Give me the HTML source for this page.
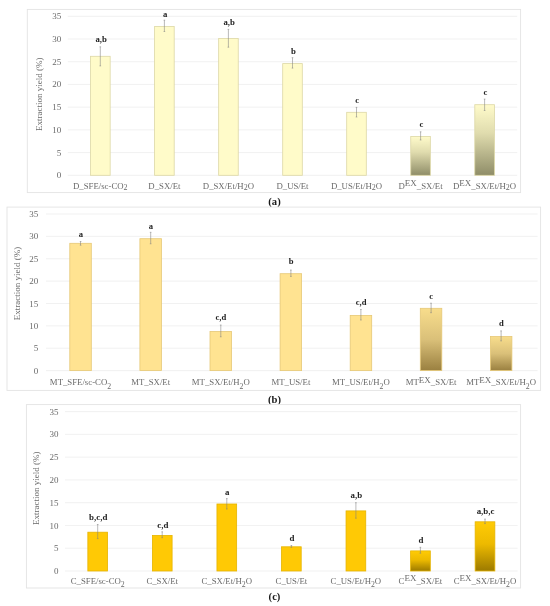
<!DOCTYPE html>
<html><head><meta charset="utf-8"><title>Extraction yield</title>
<style>
html,body{margin:0;padding:0;background:#fff;}
svg{display:block;}
.t{font-family:"Liberation Serif", "DejaVu Serif", serif;font-size:9px;fill:#6a6a6a;}
.s{font-family:"Liberation Serif", "DejaVu Serif", serif;font-size:8.3px;font-weight:bold;fill:#222;text-anchor:middle;}
.c{font-family:"Liberation Serif", "DejaVu Serif", serif;font-size:10.6px;font-weight:bold;fill:#1a1a1a;text-anchor:middle;}
</style></head><body>
<svg width="550" height="606" viewBox="0 0 550 606">
<defs>
<linearGradient id="ga" x1="0" y1="0" x2="0" y2="1"><stop offset="0" stop-color="#FFFBCB"/><stop offset="0.4" stop-color="#E0DCAE"/><stop offset="1" stop-color="#8F8D68"/></linearGradient>
<linearGradient id="gb" x1="0" y1="0" x2="0" y2="1"><stop offset="0" stop-color="#F8DD8C"/><stop offset="0.5" stop-color="#DAC079"/><stop offset="1" stop-color="#9A8040"/></linearGradient>
<linearGradient id="gc" x1="0" y1="0" x2="0" y2="1"><stop offset="0" stop-color="#FFCB05"/><stop offset="0.45" stop-color="#EDBA00"/><stop offset="1" stop-color="#9C7A00"/></linearGradient>
</defs>
<rect width="550" height="606" fill="#fff"/>

<g>
<rect x="27.3" y="9.4" width="493.3" height="183.2" fill="#fff" stroke="#e3e3e3" stroke-width="0.9"/>
<line x1="67.8" x2="517.2" y1="175.30" y2="175.30" stroke="#e9e9e9" stroke-width="0.65"/>
<text class="t" x="61.2" y="178.3" text-anchor="end">0</text>
<line x1="67.8" x2="517.2" y1="152.59" y2="152.59" stroke="#e9e9e9" stroke-width="0.65"/>
<text class="t" x="61.2" y="155.6" text-anchor="end">5</text>
<line x1="67.8" x2="517.2" y1="129.87" y2="129.87" stroke="#e9e9e9" stroke-width="0.65"/>
<text class="t" x="61.2" y="132.9" text-anchor="end">10</text>
<line x1="67.8" x2="517.2" y1="107.16" y2="107.16" stroke="#e9e9e9" stroke-width="0.65"/>
<text class="t" x="61.2" y="110.2" text-anchor="end">15</text>
<line x1="67.8" x2="517.2" y1="84.44" y2="84.44" stroke="#e9e9e9" stroke-width="0.65"/>
<text class="t" x="61.2" y="87.4" text-anchor="end">20</text>
<line x1="67.8" x2="517.2" y1="61.73" y2="61.73" stroke="#e9e9e9" stroke-width="0.65"/>
<text class="t" x="61.2" y="64.7" text-anchor="end">25</text>
<line x1="67.8" x2="517.2" y1="39.01" y2="39.01" stroke="#e9e9e9" stroke-width="0.65"/>
<text class="t" x="61.2" y="42.0" text-anchor="end">30</text>
<line x1="67.8" x2="517.2" y1="16.30" y2="16.30" stroke="#e9e9e9" stroke-width="0.65"/>
<text class="t" x="61.2" y="19.3" text-anchor="end">35</text>
<text class="t" transform="translate(41.7 94.3) rotate(-90)" text-anchor="middle">Extraction yield (%)</text>
<rect x="90.55" y="56.30" width="19.60" height="119.00" fill="#FFFBC9" stroke="#DDD8A6" stroke-width="0.8"/>
<path d="M100.3 46.8V65.9M99.5 46.8h1.6M99.5 65.9h1.6" stroke="#808080" stroke-width="0.55" fill="none"/>
<text class="s" x="101.1" y="41.8" style="font-size:8.7px">a,b</text>
<text class="t" x="100.3" y="188.6" text-anchor="middle" style="font-size:8.75px">D_SFE/sc-CO<tspan dy="1.8" style="font-size:8.0px">2</tspan></text>
<rect x="154.60" y="26.40" width="19.60" height="148.90" fill="#FFFBC9" stroke="#DDD8A6" stroke-width="0.8"/>
<path d="M164.4 20.2V31.5M163.6 20.2h1.6M163.6 31.5h1.6" stroke="#808080" stroke-width="0.55" fill="none"/>
<text class="s" x="165.2" y="16.7" style="font-size:8.7px">a</text>
<text class="t" x="164.4" y="188.6" text-anchor="middle" style="font-size:8.75px">D_SX/Et</text>
<rect x="218.65" y="38.50" width="19.60" height="136.80" fill="#FFFBC9" stroke="#DDD8A6" stroke-width="0.8"/>
<path d="M228.4 29.4V47.2M227.6 29.4h1.6M227.6 47.2h1.6" stroke="#808080" stroke-width="0.55" fill="none"/>
<text class="s" x="229.2" y="25.2" style="font-size:8.7px">a,b</text>
<text class="t" x="228.4" y="188.6" text-anchor="middle" style="font-size:8.75px">D_SX/Et/H<tspan dy="1.8" style="font-size:8.0px">2</tspan><tspan dy="-1.8">O</tspan></text>
<rect x="282.70" y="63.60" width="19.60" height="111.70" fill="#FFFBC9" stroke="#DDD8A6" stroke-width="0.8"/>
<path d="M292.5 57.7V68.1M291.7 57.7h1.6M291.7 68.1h1.6" stroke="#808080" stroke-width="0.55" fill="none"/>
<text class="s" x="293.3" y="53.9" style="font-size:8.7px">b</text>
<text class="t" x="292.5" y="188.6" text-anchor="middle" style="font-size:8.75px">D_US/Et</text>
<rect x="346.70" y="112.30" width="19.60" height="63.00" fill="#FFFBC9" stroke="#DDD8A6" stroke-width="0.8"/>
<path d="M356.5 107.4V117.0M355.7 107.4h1.6M355.7 117.0h1.6" stroke="#808080" stroke-width="0.55" fill="none"/>
<text class="s" x="357.3" y="102.6" style="font-size:8.7px">c</text>
<text class="t" x="356.5" y="188.6" text-anchor="middle" style="font-size:8.75px">D_US/Et/H<tspan dy="1.8" style="font-size:8.0px">2</tspan><tspan dy="-1.8">O</tspan></text>
<rect x="410.75" y="136.40" width="19.60" height="38.90" fill="url(#ga)" stroke="#DDD8A6" stroke-width="0.8"/>
<path d="M420.6 131.8V140.0M419.8 131.8h1.6M419.8 140.0h1.6" stroke="#808080" stroke-width="0.55" fill="none"/>
<text class="s" x="421.4" y="127.3" style="font-size:8.7px">c</text>
<text class="t" x="420.6" y="188.6" text-anchor="middle" style="font-size:8.75px">D<tspan dy="-2.6" style="font-size:9px">EX</tspan><tspan dy="2.6">_</tspan>SX/Et</text>
<rect x="474.80" y="104.70" width="19.60" height="70.60" fill="url(#ga)" stroke="#DDD8A6" stroke-width="0.8"/>
<path d="M484.6 99.1V110.5M483.8 99.1h1.6M483.8 110.5h1.6" stroke="#808080" stroke-width="0.55" fill="none"/>
<text class="s" x="485.4" y="94.5" style="font-size:8.7px">c</text>
<text class="t" x="484.6" y="188.6" text-anchor="middle" style="font-size:8.75px">D<tspan dy="-2.6" style="font-size:9px">EX</tspan><tspan dy="2.6">_</tspan>SX/Et/H<tspan dy="1.8" style="font-size:8.0px">2</tspan><tspan dy="-1.8">O</tspan></text>
</g>
<text class="c" x="274.5" y="205.0">(a)</text>
<g>
<rect x="7.0" y="207.1" width="533.6" height="183.3" fill="#fff" stroke="#e3e3e3" stroke-width="0.9"/>
<line x1="46.0" x2="537.6" y1="370.60" y2="370.60" stroke="#e9e9e9" stroke-width="0.65"/>
<text class="t" x="38.2" y="373.6" text-anchor="end">0</text>
<line x1="46.0" x2="537.6" y1="348.23" y2="348.23" stroke="#e9e9e9" stroke-width="0.65"/>
<text class="t" x="38.2" y="351.2" text-anchor="end">5</text>
<line x1="46.0" x2="537.6" y1="325.86" y2="325.86" stroke="#e9e9e9" stroke-width="0.65"/>
<text class="t" x="38.2" y="328.9" text-anchor="end">10</text>
<line x1="46.0" x2="537.6" y1="303.49" y2="303.49" stroke="#e9e9e9" stroke-width="0.65"/>
<text class="t" x="38.2" y="306.5" text-anchor="end">15</text>
<line x1="46.0" x2="537.6" y1="281.11" y2="281.11" stroke="#e9e9e9" stroke-width="0.65"/>
<text class="t" x="38.2" y="284.1" text-anchor="end">20</text>
<line x1="46.0" x2="537.6" y1="258.74" y2="258.74" stroke="#e9e9e9" stroke-width="0.65"/>
<text class="t" x="38.2" y="261.7" text-anchor="end">25</text>
<line x1="46.0" x2="537.6" y1="236.37" y2="236.37" stroke="#e9e9e9" stroke-width="0.65"/>
<text class="t" x="38.2" y="239.4" text-anchor="end">30</text>
<line x1="46.0" x2="537.6" y1="214.00" y2="214.00" stroke="#e9e9e9" stroke-width="0.65"/>
<text class="t" x="38.2" y="217.0" text-anchor="end">35</text>
<text class="t" transform="translate(19.7 283.6) rotate(-90)" text-anchor="middle">Extraction yield (%)</text>
<rect x="69.80" y="243.30" width="21.50" height="127.30" fill="#FFE391" stroke="#E6C877" stroke-width="0.8"/>
<path d="M80.5 241.5V245.2M79.8 241.5h1.6M79.8 245.2h1.6" stroke="#808080" stroke-width="0.55" fill="none"/>
<text class="s" x="80.8" y="237.3" style="font-size:8.6px">a</text>
<text class="t" x="80.5" y="385.3" text-anchor="middle" style="font-size:8.75px">MT_SFE/sc-CO<tspan dy="3.6" style="font-size:7.8px">2</tspan></text>
<rect x="139.90" y="238.70" width="21.50" height="131.90" fill="#FFE391" stroke="#E6C877" stroke-width="0.8"/>
<path d="M150.7 232.3V243.8M149.8 232.3h1.6M149.8 243.8h1.6" stroke="#808080" stroke-width="0.55" fill="none"/>
<text class="s" x="150.8" y="228.6" style="font-size:8.6px">a</text>
<text class="t" x="150.7" y="385.3" text-anchor="middle" style="font-size:8.75px">MT_SX/Et</text>
<rect x="210.00" y="331.50" width="21.50" height="39.10" fill="#FFE391" stroke="#E6C877" stroke-width="0.8"/>
<path d="M220.8 325.0V336.8M219.9 325.0h1.6M219.9 336.8h1.6" stroke="#808080" stroke-width="0.55" fill="none"/>
<text class="s" x="220.9" y="319.8" style="font-size:8.6px">c,d</text>
<text class="t" x="220.8" y="385.3" text-anchor="middle" style="font-size:8.75px">MT_SX/Et/H<tspan dy="3.6" style="font-size:7.8px">2</tspan><tspan dy="-3.6">O</tspan></text>
<rect x="280.10" y="273.70" width="21.50" height="96.90" fill="#FFE391" stroke="#E6C877" stroke-width="0.8"/>
<path d="M290.9 270.0V276.4M290.1 270.0h1.6M290.1 276.4h1.6" stroke="#808080" stroke-width="0.55" fill="none"/>
<text class="s" x="291.1" y="264.3" style="font-size:8.6px">b</text>
<text class="t" x="290.9" y="385.3" text-anchor="middle" style="font-size:8.75px">MT_US/Et</text>
<rect x="350.20" y="315.40" width="21.50" height="55.20" fill="#FFE391" stroke="#E6C877" stroke-width="0.8"/>
<path d="M360.9 309.5V320.0M360.1 309.5h1.6M360.1 320.0h1.6" stroke="#808080" stroke-width="0.55" fill="none"/>
<text class="s" x="361.1" y="304.8" style="font-size:8.6px">c,d</text>
<text class="t" x="360.9" y="385.3" text-anchor="middle" style="font-size:8.75px">MT_US/Et/H<tspan dy="3.6" style="font-size:7.8px">2</tspan><tspan dy="-3.6">O</tspan></text>
<rect x="420.30" y="308.30" width="21.50" height="62.30" fill="url(#gb)" stroke="#E6C877" stroke-width="0.8"/>
<path d="M431.1 303.2V312.7M430.2 303.2h1.6M430.2 312.7h1.6" stroke="#808080" stroke-width="0.55" fill="none"/>
<text class="s" x="431.2" y="298.6" style="font-size:8.6px">c</text>
<text class="t" x="431.1" y="385.3" text-anchor="middle" style="font-size:8.75px">MT<tspan dy="-2.6" style="font-size:9px">EX</tspan><tspan dy="2.6">_</tspan>SX/Et</text>
<rect x="490.40" y="336.50" width="21.50" height="34.10" fill="url(#gb)" stroke="#E6C877" stroke-width="0.8"/>
<path d="M501.1 330.9V340.9M500.3 330.9h1.6M500.3 340.9h1.6" stroke="#808080" stroke-width="0.55" fill="none"/>
<text class="s" x="501.3" y="325.6" style="font-size:8.6px">d</text>
<text class="t" x="501.1" y="385.3" text-anchor="middle" style="font-size:8.75px">MT<tspan dy="-2.6" style="font-size:9px">EX</tspan><tspan dy="2.6">_</tspan>SX/Et/H<tspan dy="3.6" style="font-size:7.8px">2</tspan><tspan dy="-3.6">O</tspan></text>
</g>
<text class="c" x="274.5" y="402.5">(b)</text>
<g>
<rect x="26.4" y="404.6" width="494.2" height="183.4" fill="#fff" stroke="#e3e3e3" stroke-width="0.9"/>
<line x1="65.0" x2="517.6" y1="571.00" y2="571.00" stroke="#e9e9e9" stroke-width="0.65"/>
<text class="t" x="58.5" y="574.0" text-anchor="end">0</text>
<line x1="65.0" x2="517.6" y1="548.23" y2="548.23" stroke="#e9e9e9" stroke-width="0.65"/>
<text class="t" x="58.5" y="551.2" text-anchor="end">5</text>
<line x1="65.0" x2="517.6" y1="525.46" y2="525.46" stroke="#e9e9e9" stroke-width="0.65"/>
<text class="t" x="58.5" y="528.5" text-anchor="end">10</text>
<line x1="65.0" x2="517.6" y1="502.69" y2="502.69" stroke="#e9e9e9" stroke-width="0.65"/>
<text class="t" x="58.5" y="505.7" text-anchor="end">15</text>
<line x1="65.0" x2="517.6" y1="479.91" y2="479.91" stroke="#e9e9e9" stroke-width="0.65"/>
<text class="t" x="58.5" y="482.9" text-anchor="end">20</text>
<line x1="65.0" x2="517.6" y1="457.14" y2="457.14" stroke="#e9e9e9" stroke-width="0.65"/>
<text class="t" x="58.5" y="460.1" text-anchor="end">25</text>
<line x1="65.0" x2="517.6" y1="434.37" y2="434.37" stroke="#e9e9e9" stroke-width="0.65"/>
<text class="t" x="58.5" y="437.4" text-anchor="end">30</text>
<line x1="65.0" x2="517.6" y1="411.60" y2="411.60" stroke="#e9e9e9" stroke-width="0.65"/>
<text class="t" x="58.5" y="414.6" text-anchor="end">35</text>
<text class="t" transform="translate(39.4 488.2) rotate(-90)" text-anchor="middle">Extraction yield (%)</text>
<rect x="87.85" y="532.20" width="19.70" height="38.80" fill="#FFC905" stroke="#E6B400" stroke-width="0.8"/>
<path d="M97.7 524.5V538.6M96.9 524.5h1.6M96.9 538.6h1.6" stroke="#808080" stroke-width="0.55" fill="none"/>
<text class="s" x="98.2" y="520.0" style="font-size:8.9px">b,c,d</text>
<text class="t" x="97.7" y="583.5" text-anchor="middle" style="font-size:8.75px">C_SFE/sc-CO<tspan dy="3.6" style="font-size:7.8px">2</tspan></text>
<rect x="152.40" y="535.40" width="19.70" height="35.60" fill="#FFC905" stroke="#E6B400" stroke-width="0.8"/>
<path d="M162.2 531.8V537.7M161.4 531.8h1.6M161.4 537.7h1.6" stroke="#808080" stroke-width="0.55" fill="none"/>
<text class="s" x="162.8" y="527.7" style="font-size:8.9px">c,d</text>
<text class="t" x="162.2" y="583.5" text-anchor="middle" style="font-size:8.75px">C_SX/Et</text>
<rect x="216.95" y="504.00" width="19.70" height="67.00" fill="#FFC905" stroke="#E6B400" stroke-width="0.8"/>
<path d="M226.8 498.6V509.0M226.0 498.6h1.6M226.0 509.0h1.6" stroke="#808080" stroke-width="0.55" fill="none"/>
<text class="s" x="227.3" y="494.5" style="font-size:8.9px">a</text>
<text class="t" x="226.8" y="583.5" text-anchor="middle" style="font-size:8.75px">C_SX/Et/H<tspan dy="3.6" style="font-size:7.8px">2</tspan><tspan dy="-3.6">O</tspan></text>
<rect x="281.50" y="546.80" width="19.70" height="24.20" fill="#FFC905" stroke="#E6B400" stroke-width="0.8"/>
<path d="M291.4 545.5V547.3M290.6 545.5h1.6M290.6 547.3h1.6" stroke="#808080" stroke-width="0.55" fill="none"/>
<text class="s" x="291.9" y="540.5" style="font-size:8.9px">d</text>
<text class="t" x="291.4" y="583.5" text-anchor="middle" style="font-size:8.75px">C_US/Et</text>
<rect x="346.05" y="510.90" width="19.70" height="60.10" fill="#FFC905" stroke="#E6B400" stroke-width="0.8"/>
<path d="M355.9 502.7V518.2M355.1 502.7h1.6M355.1 518.2h1.6" stroke="#808080" stroke-width="0.55" fill="none"/>
<text class="s" x="356.4" y="498.2" style="font-size:8.9px">a,b</text>
<text class="t" x="355.9" y="583.5" text-anchor="middle" style="font-size:8.75px">C_US/Et/H<tspan dy="3.6" style="font-size:7.8px">2</tspan><tspan dy="-3.6">O</tspan></text>
<rect x="410.60" y="550.90" width="19.70" height="20.10" fill="url(#gc)" stroke="#E6B400" stroke-width="0.8"/>
<path d="M420.4 547.3V553.2M419.6 547.3h1.6M419.6 553.2h1.6" stroke="#808080" stroke-width="0.55" fill="none"/>
<text class="s" x="420.9" y="542.7" style="font-size:8.9px">d</text>
<text class="t" x="420.4" y="583.5" text-anchor="middle" style="font-size:8.75px">C<tspan dy="-2.6" style="font-size:9px">EX</tspan><tspan dy="2.6">_</tspan>SX/Et</text>
<rect x="475.15" y="521.80" width="19.70" height="49.20" fill="url(#gc)" stroke="#E6B400" stroke-width="0.8"/>
<path d="M485.0 519.1V523.6M484.2 519.1h1.6M484.2 523.6h1.6" stroke="#808080" stroke-width="0.55" fill="none"/>
<text class="s" x="485.5" y="514.1" style="font-size:8.9px">a,b,c</text>
<text class="t" x="485.0" y="583.5" text-anchor="middle" style="font-size:8.75px">C<tspan dy="-2.6" style="font-size:9px">EX</tspan><tspan dy="2.6">_</tspan>SX/Et/H<tspan dy="3.6" style="font-size:7.8px">2</tspan><tspan dy="-3.6">O</tspan></text>
</g>
<text class="c" x="274.5" y="600.0">(c)</text>
</svg></body></html>
